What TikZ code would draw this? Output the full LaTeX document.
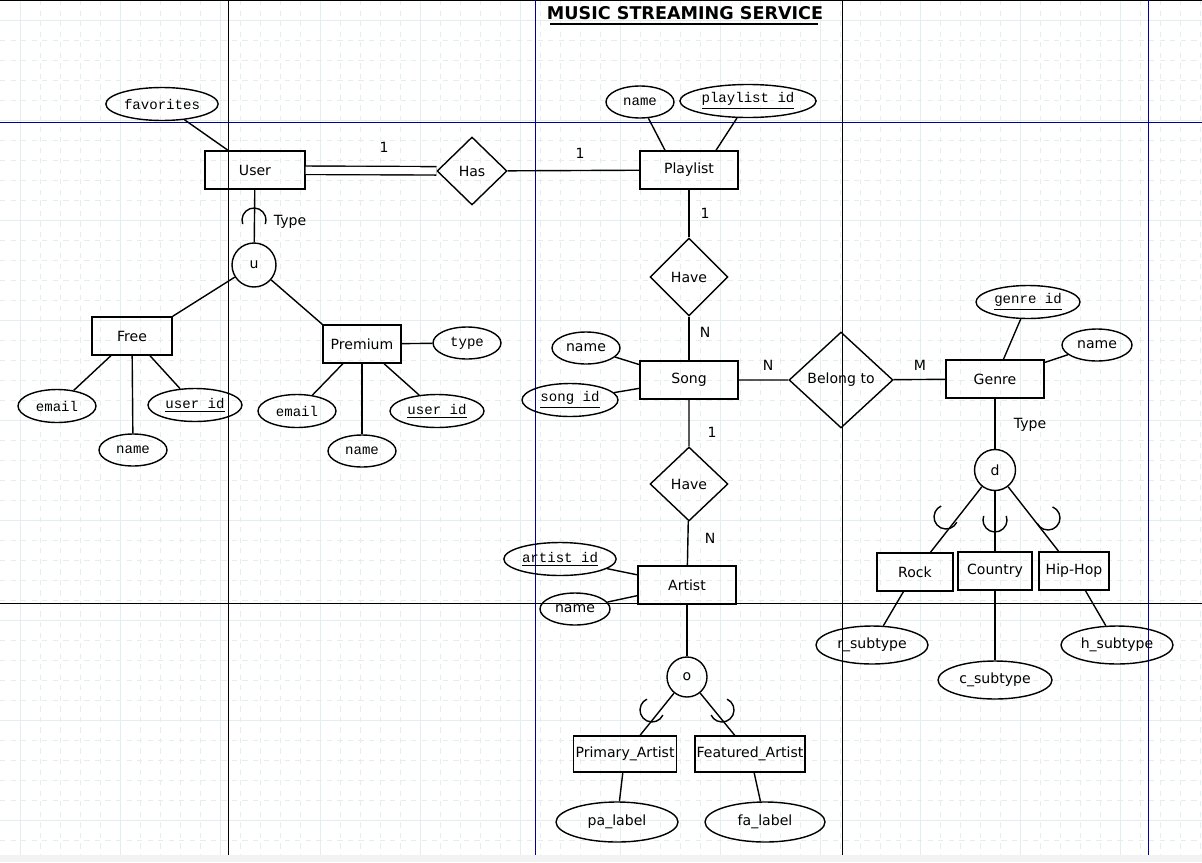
\documentclass[tikz,border=0pt]{standalone}
\usepackage{fontspec}
\setmainfont{DejaVu Sans}
\newfontfamily\monofont{Liberation Mono}
\usetikzlibrary{calc,shapes.geometric}
\begin{document}
\begin{tikzpicture}
[x=0.02cm,y=-0.02cm,font=\fontsize{8}{9}\selectfont,
entity/.style={draw,thick,rectangle,minimum height=0.76cm,inner sep=1pt},
attr/.style={draw,thick,ellipse,minimum height=0.66cm,inner sep=1pt},
rel/.style={draw,thick,diamond,inner sep=0pt},
spec/.style={draw,thick,circle,minimum size=0.82cm,inner sep=0pt},
link/.style={thick},
mono/.style={font=\monofont\fontsize{8}{9}\selectfont},
]

\useasboundingbox (0,0) rectangle (1202,862);

%Background grid and page lines
\foreach \g in {20,40,...,1200} \draw[cyan!30!gray!18,dashed] (\g,0) -- (\g,855);
\foreach \g in {20,40,...,860} \draw[cyan!30!gray!18,dashed] (0,\g) -- (1202,\g);
\foreach \g in {20,120,...,1200} \draw[cyan!30!gray!18] (\g,0) -- (\g,855);
\foreach \g in {20,120,...,860} \draw[cyan!30!gray!18] (0,\g) -- (1202,\g);
\draw (0,0) -- (1202,0);
\draw (228,0) -- (228,855);
\draw (842,0) -- (842,855);
\draw[blue!60!black] (535,0) -- (535,855);
\draw[blue!60!black] (1148,0) -- (1148,855);
\draw[blue!60!black] (0,122) -- (1202,122);
\draw (0,603) -- (1202,603);
\fill[gray!10] (0,855) rectangle (1202,862);

%Title
\node (title) at (685,13) {\fontsize{10}{12}\selectfont\bfseries MUSIC STREAMING SERVICE};
\draw[thick] (550,24) -- (818,24);

%Entities
\node (User) at (255,170)[entity,minimum width=2cm] {User};
\node (Playlist) at (689,170)[entity,minimum width=1.96cm] {Playlist};
\node (Song) at (689,380)[entity,minimum width=1.96cm] {Song};
\node (Genre) at (995,379)[entity,minimum width=1.96cm] {Genre};
\node (Artist) at (687,585)[entity,minimum width=1.96cm] {Artist};
\node (Free) at (132,336)[entity,minimum width=1.6cm] {Free};
\node (Premium) at (362,344)[entity,minimum width=1.56cm] {Premium};
\node (Rock) at (915,572)[entity,minimum width=1.52cm] {Rock};
\node (Country) at (995,571)[entity,minimum width=1.48cm] {Country};
\node (HipHop) at (1074,571)[entity,minimum width=1.4cm] {Hip-Hop};
\node (Primary) at (625,754)[entity,minimum width=1.96cm,minimum height=0.72cm] {Primary\_Artist};
\node (Featured) at (750,754)[entity,minimum width=2.16cm,minimum height=0.72cm] {Featured\_Artist};

%Relationships
\node (Has) at (472,171)[rel,minimum width=1.4cm,minimum height=1.36cm] {Has};
\node (HaveP) at (689,277)[rel,minimum width=1.56cm,minimum height=1.56cm] {Have};
\node (Belong) at (841,380)[rel,minimum width=2.08cm,minimum height=1.92cm] {Belong to};
\node (HaveA) at (689,484)[rel,minimum width=1.56cm,minimum height=1.48cm] {Have};

%Specialization circles
\node (u) at (254,265)[spec,minimum size=0.88cm] {u};
\node (d) at (995,470)[spec] {d};
\node (o) at (687,677)[spec,minimum size=0.8cm] {o};

%Attributes
\node (favorites) at (162,104)[attr,mono,minimum width=2.16cm] {favorites};
\node (plname) at (640,102)[attr,mono,minimum width=1.36cm,minimum height=0.64cm] {name};
\node (plid) at (748,101)[attr,mono,minimum width=2.44cm] {\underline{playlist id}};
\node (sname) at (586,348)[attr,minimum width=1.36cm,minimum height=0.64cm] {name};
\node (sid) at (570,400)[attr,mono,minimum width=1.92cm] {\underline{song id}};
\node (gid) at (1028,302)[attr,mono,minimum width=2.08cm] {\underline{genre id}};
\node (gname) at (1097,345)[attr,minimum width=1.4cm,minimum height=0.64cm] {name};
\node (aid) at (560,559)[attr,mono,minimum width=2.12cm] {\underline{artist id}};
\node (aname) at (575,609)[attr,minimum width=1.4cm,minimum height=0.64cm] {name};
\node (ptype) at (467,343)[attr,mono,minimum width=1.36cm,minimum height=0.64cm] {type};
\node (femail) at (57,406)[attr,mono,minimum width=1.56cm] {email};
\node (fname) at (133,450)[attr,mono,minimum width=1.36cm,minimum height=0.64cm] {name};
\node (fid) at (195,405)[attr,mono,minimum width=1.88cm] {\underline{user id}};
\node (pemail) at (297,411)[attr,mono,minimum width=1.56cm] {email};
\node (pname) at (362,451)[attr,mono,minimum width=1.36cm,minimum height=0.64cm] {name};
\node (pid) at (437,411)[attr,mono,minimum width=1.88cm] {\underline{user id}};
\node (rsub) at (872,645)[attr,minimum width=2.24cm,minimum height=0.76cm] {r\_subtype};
\node (csub) at (995,680)[attr,minimum width=2.28cm,minimum height=0.76cm] {c\_subtype};
\node (hsub) at (1117,645)[attr,minimum width=2.24cm,minimum height=0.76cm] {h\_subtype};
\node (palabel) at (617,822)[attr,minimum width=2.44cm,minimum height=0.8cm] {pa\_label};
\node (falabel) at (765,822)[attr,minimum width=2.4cm,minimum height=0.8cm] {fa\_label};

%Cardinalities and labels
\node (c1) at (384,147) {1};
\node (c2) at (580,153) {1};
\node (c3) at (705,213) {1};
\node (c4) at (705,332) {N};
\node (c5) at (768,365) {N};
\node (c6) at (920,365) {M};
\node (c7) at (712,432) {1};
\node (c8) at (710,538) {N};
\node (typeU) at (290,222) {Type};
\node (typeG) at (1030,425) {Type};

%Relationship lines
\draw[link,double,double distance=4pt] (User) -- (Has);
\draw[link] (Has) -- (Playlist);
\draw[link] (Playlist) -- (HaveP) -- (Song);
\draw[link] (Song) -- (Belong) -- (Genre);
\draw[link] (Song) -- (HaveA) -- (Artist);

%Attribute lines
\draw[link] (favorites) -- (User.north west -| 228,151);
\draw[link] (plname) -- (Playlist.north -| 665,151);
\draw[link] (plid) -- (Playlist.north -| 716,151);
\draw[link] (sname) -- (Song);
\draw[link] (sid) -- (Song);
\draw[link] (gid) -- (Genre);
\draw[link] (gname) -- (Genre);
\draw[link] (aid) -- (Artist);
\draw[link] (aname) -- (Artist);
\draw[link] (Premium) -- (ptype);
\draw[link] (Free) -- (femail);
\draw[link] (Free) -- (fname);
\draw[link] (Free) -- (fid);
\draw[link] (Premium) -- (pemail);
\draw[link] (Premium) -- (pname);
\draw[link] (Premium) -- (pid);
\draw[link] (Rock) -- (rsub);
\draw[link] (Country) -- (csub);
\draw[link] (HipHop) -- (hsub);
\draw[link] (Primary) -- (palabel);
\draw[link] (Featured) -- (falabel);

%Specialization lines
\draw[link] (User) -- (u);
\draw[link] (u) -- (Free.north east);
\draw[link] (u) -- (Premium.north west);
\draw[link] (Genre) -- (d);
\draw[link] (d) -- (Rock);
\draw[link] (d) -- (Country);
\draw[link] (d) -- (HipHop);
\draw[link] (Artist) -- (o);
\draw[link] (o) -- (Primary);
\draw[link] (o) -- (Featured);

%Subset marks
\foreach \cx/\cy/\ang in {254/220/90, 995/520/270, 946/517/316, 1048/518/222, 652/710/315, 722/710/225}
  \draw[link] ($(\cx,\cy)+(\ang+70:12)$) arc[start angle=\ang+70,end angle=\ang+290,radius=12];

\end{tikzpicture}
\end{document}
